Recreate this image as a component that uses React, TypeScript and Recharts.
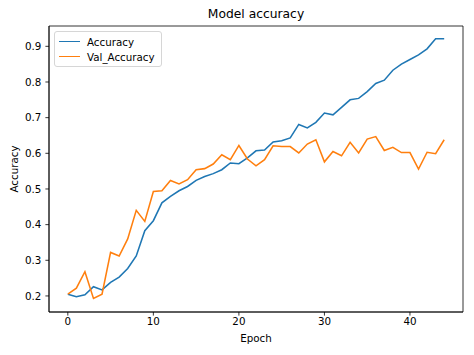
import { Label, Line, LineChart, ReferenceArea, XAxis, YAxis } from "recharts";

const epochs = Array.from({ length: 45 }, (_, i) => i);

const accuracy = [
  0.205, 0.198, 0.203, 0.226, 0.217, 0.238, 0.253, 0.277, 0.312, 0.383,
  0.411, 0.461, 0.479, 0.495, 0.507, 0.524, 0.535, 0.543, 0.554, 0.573,
  0.571, 0.587, 0.607, 0.609, 0.632, 0.635, 0.643, 0.681, 0.671, 0.687,
  0.713, 0.708, 0.729, 0.75, 0.754, 0.773, 0.796, 0.805, 0.833, 0.85,
  0.863, 0.876, 0.893, 0.921, 0.921,
];

const valAccuracy = [
  0.205, 0.222, 0.268, 0.193, 0.205, 0.322, 0.312, 0.36, 0.44, 0.409,
  0.493, 0.495, 0.524, 0.514, 0.526, 0.554, 0.557, 0.57, 0.596, 0.582,
  0.622, 0.584, 0.565, 0.582, 0.621, 0.619, 0.619, 0.601, 0.626, 0.638,
  0.576, 0.605, 0.593, 0.631, 0.601, 0.64, 0.647, 0.608, 0.617, 0.602,
  0.602, 0.556, 0.603, 0.599, 0.638,
];

const xTicks = [0, 10, 20, 30, 40];
const yTicks = [0.2, 0.3, 0.4, 0.5, 0.6, 0.7, 0.8, 0.9];
const xDomain = [-2.2, 46.2];
const yDomain = [0.155, 0.957];
const seriesNames = ["Accuracy", "Val_Accuracy"];

const BLUE = "#1f77b4";
const ORANGE = "#ff7f0e";
const FONT = "'DejaVu Sans', sans-serif";

const data = epochs.map((e, i) => ({ epoch: e, acc: accuracy[i], val: valAccuracy[i] }));

const tickStyle = { fill: "#000", fontSize: 10.3, fontFamily: FONT };
const axisLine = { stroke: "#000", strokeWidth: 0.8 };

// matplotlib-ish legend, placed over the plot so it doesn't eat chart space
function LegendBox() {
  const colors = [BLUE, ORANGE];
  return (
    <div
      style={{
        position: "absolute",
        left: 54,
        top: 31,
        border: "1px solid #d6d6d6",
        borderRadius: 3,
        background: "rgba(255,255,255,0.8)",
        padding: "2px 6px 2px 4px",
        fontFamily: FONT,
        fontSize: 10.3,
        color: "#000",
      }}
    >
      {seriesNames.map((n, i) => (
        <div key={n} style={{ display: "flex", alignItems: "center", height: 15 }}>
          <span style={{ display: "inline-block", width: 21, height: 1.6, background: colors[i], marginRight: 7 }} />
          {n}
        </div>
      ))}
    </div>
  );
}

export default function App() {
  return (
    <div style={{ position: "fixed", left: 0, top: 0, width: 474, height: 355, background: "#fff" }}>
      <div
        style={{
          position: "absolute",
          left: 49,
          width: 414,
          top: 7,
          textAlign: "center",
          fontFamily: FONT,
          fontSize: 12.3,
          color: "#000",
        }}
      >
        Model accuracy
      </div>
      <LineChart width={474} height={355} data={data} margin={{ top: 26, right: 11, bottom: 0, left: 0 }}>
        <XAxis
          dataKey="epoch"
          type="number"
          domain={xDomain}
          ticks={xTicks}
          height={43}
          axisLine={axisLine}
          tickLine={{ stroke: "#000", strokeWidth: 0.8 }}
          tickSize={3.6}
          tickMargin={2.5}
          tick={tickStyle}
        >
          <Label value="Epoch" position="insideBottom" offset={13} style={{ ...tickStyle, textAnchor: "middle" }} />
        </XAxis>
        <YAxis
          type="number"
          domain={yDomain}
          ticks={yTicks}
          width={49}
          axisLine={axisLine}
          tickLine={{ stroke: "#000", strokeWidth: 0.8 }}
          tickSize={3.6}
          tickMargin={4}
          tick={tickStyle}
          tickFormatter={(v: number) => v.toFixed(1)}
        >
          <Label value="Accuracy" angle={-90} position="insideLeft" offset={14} style={{ ...tickStyle, textAnchor: "middle" }} />
        </YAxis>
        {/* axes frame (top/right spines) */}
        <ReferenceArea
          x1={xDomain[0]}
          x2={xDomain[1]}
          y1={yDomain[0]}
          y2={yDomain[1]}
          fill="none"
          fillOpacity={0}
          stroke="#000"
          strokeWidth={0.8}
          strokeOpacity={1}
          ifOverflow="visible"
        />
        <Line dataKey="acc" name={seriesNames[0]} stroke={BLUE} strokeWidth={1.55} dot={false} isAnimationActive={false} />
        <Line dataKey="val" name={seriesNames[1]} stroke={ORANGE} strokeWidth={1.55} dot={false} isAnimationActive={false} />
      </LineChart>
      <LegendBox />
    </div>
  );
}
